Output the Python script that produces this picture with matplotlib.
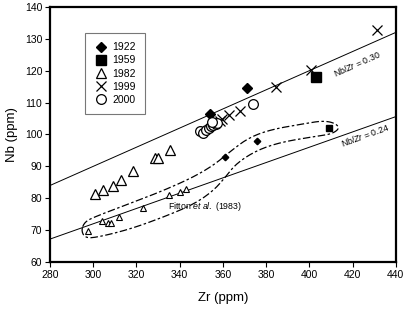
import matplotlib
matplotlib.use("Agg")
import matplotlib.pyplot as plt
import numpy as np

plt.rcParams['font.family'] = ['Liberation Sans', 'DejaVu Sans']
plt.rcParams['mathtext.fontset'] = 'custom'
plt.rcParams['mathtext.rm'] = 'Liberation Sans'
plt.rcParams['mathtext.it'] = 'Liberation Sans:italic'

# ---- data ----
zr_1922_big = [354, 371]
nb_1922_big = [106.5, 114.5]
zr_1922_small = [361, 376]
nb_1922_small = [93, 98]

zr_1959_big = [403]
nb_1959_big = [118]
zr_1959_small = [409]
nb_1959_small = [102]

zr_1982_big = [301, 304.7, 309, 312.8, 318.6, 328.5, 330.2, 335.6]
nb_1982_big = [81.2, 82.5, 83.8, 85.7, 88.5, 92.5, 92.5, 95.0]
zr_1982_small = [297.8, 304, 306.7, 308.3, 312.1, 323, 334.9, 340.3, 343]
nb_1982_small = [69.8, 73, 72.2, 72.2, 74.0, 77, 81, 82, 83]

zr_1999 = [431.5, 400.6, 384.6, 368.1, 362.7, 359.8, 358.5]
nb_1999 = [132.9, 120.3, 114.9, 107.5, 106.2, 105.0, 104.3]

zr_2000 = [374, 349.5, 350.8, 352.2, 353.5, 354.6, 355.6, 356.6, 357.5, 355.0]
nb_2000 = [109.5, 101.2, 100.6, 101.5, 102.0, 102.5, 103.0, 103.4, 103.6, 104.0]

ratios = [0.30, 0.24]
ratio_labels = [r"Nb/$Zr$ = 0.30", r"Nb/$Zr$ = 0.24"]

envelope_zr = [294.5, 296, 300, 315.5, 331, 346, 356, 364, 372, 382, 396, 408,
               414.5, 411, 401.8, 386.3, 375.6, 366.3, 361, 355.5, 346.3, 331,
               315.5, 300, 296]
envelope_nb = [70, 72.5, 74, 78, 82, 86.5, 90.5, 95, 99, 101.5, 103.2, 104.5,
               102.5, 100.2, 99.3, 97.5, 95, 91, 86.5, 82.3, 78, 73.7,
               70, 67.5, 67.8]

fig = plt.figure(figsize=(4.06, 3.12), dpi=100)
ax = fig.add_axes([0.123, 0.160, 0.852, 0.818])

xr = np.array([280, 440])
for r in ratios:
    ax.plot(xr, r * xr, color='black', lw=0.7, zorder=1)

# smooth closed envelope (Chaikin corner cutting)
pts = np.column_stack([envelope_zr, envelope_nb])
for _ in range(3):
    nxt = np.roll(pts, -1, axis=0)
    q = 0.75 * pts + 0.25 * nxt
    r_ = 0.25 * pts + 0.75 * nxt
    pts = np.empty((2 * len(q), 2))
    pts[0::2] = q
    pts[1::2] = r_
pts = np.vstack([pts, pts[:1]])
ax.plot(pts[:, 0], pts[:, 1], color='black', lw=0.9, dashes=(6, 2, 2, 2), zorder=1)

# markers
ax.plot(zr_1922_big, nb_1922_big, 'D', color='black', ms=5.5, ls='none', label='1922', zorder=3)
ax.plot(zr_1922_small, nb_1922_small, 'D', color='black', ms=3.3, ls='none', zorder=3)
ax.plot(zr_1959_big, nb_1959_big, 's', color='black', ms=6.5, ls='none', label='1959', zorder=3)
ax.plot(zr_1959_small, nb_1959_small, 's', color='black', ms=4.0, ls='none', zorder=3)
ax.plot(zr_1982_big, nb_1982_big, '^', mfc='white', mec='black', mew=0.9, ms=7.5, ls='none', label='1982', zorder=3)
ax.plot(zr_1982_small, nb_1982_small, '^', mfc='white', mec='black', mew=0.8, ms=4.5, ls='none', zorder=3)
ax.plot(zr_1999, nb_1999, 'x', color='black', mew=0.9, ms=6.5, ls='none', label='1999', zorder=3)
ax.plot(zr_2000, nb_2000, 'o', mfc='white', mec='black', mew=0.9, ms=7, ls='none', label='2000', zorder=3)

# annotations
ax.text(422, 122.3, ratio_labels[0], fontsize=6.3, rotation=24, ha='center', va='center')
ax.text(425.7, 99.8, ratio_labels[1], fontsize=6.3, rotation=20, ha='center', va='center')
ax.text(351.5, 77.5, r"Fitton $et\ al.$ (1983)", fontsize=6.3, ha='center', va='center')

ax.set_xlim(280, 440)
ax.set_ylim(60, 140)
ax.set_xticks(np.arange(280, 441, 20))
ax.set_yticks(np.arange(60, 141, 10))
ax.tick_params(direction='out', length=3.5, width=0.8, labelsize=7.5, pad=2)
for s in ax.spines.values():
    s.set_linewidth(1.6)

ax.set_xlabel('Zr (ppm)', fontsize=9.5, labelpad=9)
ax.set_ylabel('Nb (ppm)', fontsize=9.5, labelpad=5)

leg = ax.legend(loc='upper left', bbox_to_anchor=(0.101, 0.898), borderaxespad=0,
                fontsize=7.5, frameon=True, fancybox=False, handletextpad=0.5,
                handlelength=1.2, labelspacing=0.3, borderpad=0.9)
leg.get_frame().set_edgecolor('#555555')
leg.get_frame().set_linewidth(0.8)

fig.savefig('out.png', dpi=100)
